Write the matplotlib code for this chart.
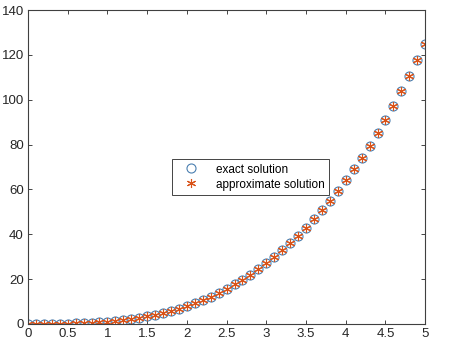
import matplotlib
matplotlib.use("Agg")
import matplotlib.pyplot as plt

plt.rcParams['font.family'] = ['Liberation Sans', 'DejaVu Sans']

# x from 0 to 5
x = [0.0, 0.1, 0.2, 0.3, 0.4, 0.5, 0.6, 0.7, 0.8, 0.9,
     1.0, 1.1, 1.2, 1.3, 1.4, 1.5, 1.6, 1.7, 1.8, 1.9,
     2.0, 2.1, 2.2, 2.3, 2.4, 2.5, 2.6, 2.7, 2.8, 2.9,
     3.0, 3.1, 3.2, 3.3, 3.4, 3.5, 3.6, 3.7, 3.8, 3.9,
     4.0, 4.1, 4.2, 4.3, 4.4, 4.5, 4.6, 4.7, 4.8, 4.9, 5.0]
exact = [0.0, 0.001, 0.008, 0.027, 0.064, 0.125, 0.216, 0.343, 0.512, 0.729,
         1.0, 1.331, 1.728, 2.197, 2.744, 3.375, 4.096, 4.913, 5.832, 6.859,
         8.0, 9.261, 10.648, 12.167, 13.824, 15.625, 17.576, 19.683, 21.952, 24.389,
         27.0, 29.791, 32.768, 35.937, 39.304, 42.875, 46.656, 50.653, 54.872, 59.319,
         64.0, 68.921, 74.088, 79.507, 85.184, 91.125, 97.336, 103.823, 110.592, 117.649, 125.0]
approx = list(exact)

xticks = [0, 0.5, 1, 1.5, 2, 2.5, 3, 3.5, 4, 4.5, 5]
xticklabels = ['0', '0.5', '1', '1.5', '2', '2.5', '3', '3.5', '4', '4.5', '5']
yticks = [0, 20, 40, 60, 80, 100, 120, 140]

fig = plt.figure(figsize=(4.74, 3.49), dpi=100)
ax = fig.add_axes([0.059, 0.072, 0.838, 0.899])

ax.plot(x, exact, 'o', mfc='none', mec='#4a7fb0', ms=6.5, mew=0.8, label='exact solution')
ax.plot(x, approx, marker=(6, 2, 0), ls='none', color='#D95319', ms=6.5, mew=0.8,
        label='approximate solution')

ax.set_xlim(0, 5)
ax.set_ylim(0, 140)
ax.set_xticks(xticks)
ax.set_xticklabels(xticklabels)
ax.set_yticks(yticks)
ax.tick_params(direction='in', length=3, width=0.6, labelsize=9.5, colors='#262626',
               top=True, right=True, labeltop=False, labelright=False, pad=3)
for s in ax.spines.values():
    s.set_color('#404040')
    s.set_linewidth(0.8)

leg = ax.legend(loc='center', bbox_to_anchor=(0.56, 0.468), fontsize=8.5,
                fancybox=False, framealpha=1, edgecolor='#262626',
                handletextpad=0.8, borderpad=0.35, labelspacing=0.25, handlelength=2.6)
leg.get_frame().set_linewidth(0.6)

fig.savefig('out.png', dpi=100)
